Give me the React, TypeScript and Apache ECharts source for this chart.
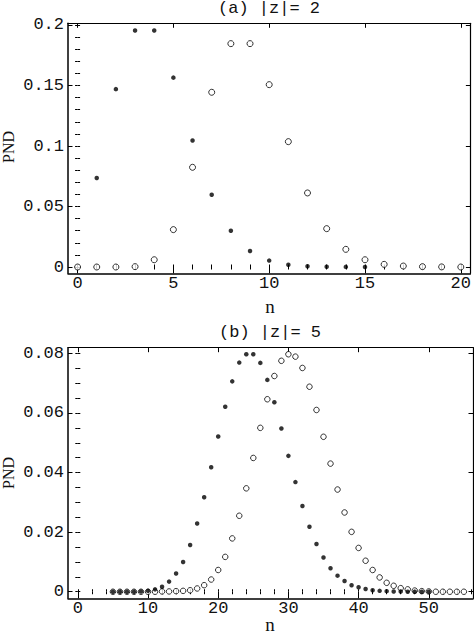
import React, { useEffect, useRef } from 'react';
import * as echarts from 'echarts';

// (a) |z| = 2
const nFilledA = [1, 2, 3, 4, 5, 6, 7, 8, 9, 10, 11, 12, 13, 14, 15];
const pndFilledA = [0.0735, 0.147, 0.1955, 0.1955, 0.1565, 0.1045, 0.0597, 0.03, 0.0132, 0.0053, 0.0019, 0.0006, 0.0002, 0.0001, 0.00002];
const nOpenA = [0, 1, 2, 3, 4, 5, 6, 7, 8, 9, 10, 11, 12, 13, 14, 15, 16, 17, 18, 19, 20];
const pndOpenA = [0, 0, 0, 0.0003, 0.006, 0.0309, 0.0824, 0.1444, 0.1846, 0.1846, 0.1507, 0.1036, 0.0612, 0.0317, 0.0146, 0.006, 0.0022, 0.0008, 0.0003, 0.0001, 0];

// (b) |z| = 5
const nFilledB = [5, 6, 7, 8, 9, 10, 11, 12, 13, 14, 15, 16, 17, 18, 19, 20, 21, 22, 23, 24, 25, 26, 27, 28, 29, 30,
  31, 32, 33, 34, 35, 36, 37, 38, 39, 40, 41, 42, 43, 44, 45, 46, 47, 48, 49, 50];
const pndFilledB = [0, 0, 0, 0, 0.0001, 0.0003, 0.0008, 0.0017, 0.0034, 0.0061, 0.01, 0.0157, 0.0229, 0.0317, 0.0418,
  0.0521, 0.0621, 0.0706, 0.0769, 0.0797, 0.0797, 0.0768, 0.0711, 0.0636, 0.0548, 0.0456, 0.0368, 0.0288, 0.0218,
  0.016, 0.0115, 0.0079, 0.0054, 0.0036, 0.0022, 0.0015, 0.0009, 0.0005, 0.0003, 0.0002, 0.0001, 0.0001, 0, 0, 0, 0];
const nOpenB = [5, 6, 7, 8, 9, 10, 11, 12, 13, 14, 15, 16, 17, 18, 19, 20, 21, 22, 23, 24, 25, 26, 27, 28, 29, 30,
  31, 32, 33, 34, 35, 36, 37, 38, 39, 40, 41, 42, 43, 44, 45, 46, 47, 48, 49, 50, 51, 52, 53, 54, 55];
const pndOpenB = [0, 0, 0, 0, 0, 0, 0, 0.0001, 0.0001, 0.0002, 0.0003, 0.0005, 0.0011, 0.0022, 0.0041, 0.0073, 0.0117,
  0.0179, 0.0255, 0.0347, 0.0449, 0.055, 0.0646, 0.0724, 0.0775, 0.0797, 0.0789, 0.0751, 0.0688, 0.061, 0.052, 0.043,
  0.0343, 0.0266, 0.0201, 0.0147, 0.0104, 0.0073, 0.0048, 0.003, 0.002, 0.0012, 0.0008, 0.0004, 0.0002, 0.0001,
  0, 0, 0, 0, 0];

// tick labels
const xTicksA = [0, 5, 10, 15, 20];
const yTicksA = [0, 0.05, 0.1, 0.15, 0.2];
const xTicksB = [0, 10, 20, 30, 40, 50];
const yTicksB = [0, 0.02, 0.04, 0.06, 0.08];

const steps = (from: number, to: number, step: number) => {
  const out: number[] = [];
  for (let v = from; v <= to + 1e-9; v += step) out.push(Math.round(v * 1e6) / 1e6);
  return out;
};

const MONO = 'Liberation Mono';
const SERIF = 'Liberation Serif';

const labelFmt = (v: number) => (Math.abs(v) < 1e-12 ? '0' : String(+v.toFixed(4)));

function makeAxes(kind: 'x' | 'y', grid: number, min: number, max: number, major: number[], minor: number[]) {
  const posA = kind === 'x' ? 'bottom' : 'left';
  const posB = kind === 'x' ? 'top' : 'right';
  const base = { type: 'value', gridIndex: grid, min, max, splitLine: { show: false } };
  const line = (w: number) => ({ show: true, onZero: false, lineStyle: { color: '#000', width: w } });
  const tick = (vals: number[], len: number) => ({
    show: true, inside: true, length: len, customValues: vals, lineStyle: { color: '#000', width: 1 },
  });
  return [
    {
      ...base, position: posA, axisLine: line(1.5), axisTick: tick(major, 4.5),
      axisLabel: {
        show: true, customValues: major, formatter: labelFmt, color: '#111',
        fontFamily: MONO, fontSize: 17, margin: kind === 'x' ? 2 : 4,
      },
    },
    { ...base, position: posA, axisLine: { show: false }, axisTick: tick(minor, 2.5), axisLabel: { show: false } },
    { ...base, position: posB, axisLine: line(1.2), axisTick: tick(major, 4.5), axisLabel: { show: false } },
    { ...base, position: posB, axisLine: { show: false }, axisTick: tick(minor, 2.5), axisLabel: { show: false } },
  ];
}

const pairs = (ns: number[], vs: number[]) => ns.map((n, i) => [n, vs[i]]);

const App: React.FC = () => {
  const chartRef = useRef<HTMLDivElement>(null);

  useEffect(() => {
    const chart = echarts.init(chartRef.current!, null, { renderer: 'svg' });

    const xAxis = [
      ...makeAxes('x', 0, -0.5, 20.5, xTicksA, steps(0, 20, 1)),
      ...makeAxes('x', 1, -1.4, 56.3, xTicksB, steps(0, 56, 2)),
    ];
    const yAxis = [
      ...makeAxes('y', 0, -0.0052, 0.2014, yTicksA, steps(0, 0.2, 0.01)),
      ...makeAxes('y', 1, -0.0022, 0.0819, yTicksB, steps(0, 0.08, 0.005)),
    ];

    const openStyle = { color: '#fff', borderColor: '#000', borderWidth: 1 };
    const filledStyle = { color: '#000' };
    const txt = (text: string, x: number, y: number, font: string, rotation = 0) => ({
      type: 'text', x, y, rotation,
      style: { text, font, fill: '#111', align: 'center', verticalAlign: 'middle' },
    });

    const options = {
      animation: false,
      grid: [
        { left: 68, top: 23.3, width: 405, height: 250 },
        { left: 68, top: 347.7, width: 405, height: 250.6 },
      ],
      xAxis,
      yAxis,
      graphic: [
        txt('(a) |z|= 2', 269, 8, `17px "${MONO}"`),
        txt('(b) |z|= 5', 270, 332, `17px "${MONO}"`),
        txt('n', 270, 306, `19px "${SERIF}"`),
        txt('n', 270, 624, `19px "${SERIF}"`),
        txt('PND', 8, 147, `16px "${SERIF}"`, Math.PI / 2),
        txt('PND', 8, 473, `16px "${SERIF}"`, Math.PI / 2),
      ],
      series: [
        {
          type: 'scatter', xAxisIndex: 0, yAxisIndex: 0, symbol: 'circle', symbolSize: 6,
          itemStyle: openStyle, data: pairs(nOpenA, pndOpenA),
        },
        {
          type: 'scatter', xAxisIndex: 0, yAxisIndex: 0, symbol: 'circle', symbolSize: 4.5,
          itemStyle: filledStyle, data: pairs(nFilledA, pndFilledA),
        },
        {
          type: 'scatter', xAxisIndex: 4, yAxisIndex: 4, symbol: 'circle', symbolSize: 5.5,
          itemStyle: openStyle, data: pairs(nOpenB, pndOpenB),
        },
        {
          type: 'scatter', xAxisIndex: 4, yAxisIndex: 4, symbol: 'circle', symbolSize: 4.5,
          itemStyle: filledStyle, data: pairs(nFilledB, pndFilledB),
        },
      ],
    };

    chart.setOption(options);

    return () => {
      chart.dispose();
    };
  }, []);

  return (
    <div
      ref={chartRef}
      style={{ position: 'absolute', left: 0, top: 0, width: '474px', height: '635px', background: '#fff' }}
    />
  );
};

export default App;
